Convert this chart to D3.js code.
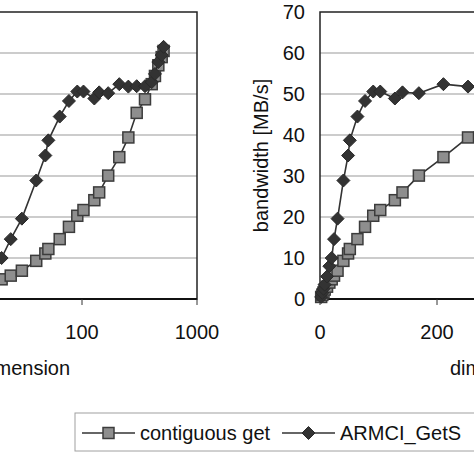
<!DOCTYPE html>
<html>
<head>
<meta charset="utf-8">
<script src="https://cdn.jsdelivr.net/npm/d3@7"></script>
<style>
  body { margin: 0; background: #fff; }
  svg { display: block; font-family: "Liberation Sans", Arial, sans-serif; }
</style>
</head>
<body>
<div id="chart"></div>
<script>
// matrix dimension (x) and bandwidth in MB/s (y)
const dims = [2, 4, 6, 8, 12, 16, 20, 24, 30, 40, 48, 51, 64, 77, 91, 103, 128, 141, 169, 211, 253, 299, 353, 404, 431, 461, 493, 512];
const contiguousGet = [0.5, 1.0, 1.6, 2.3, 3.0, 4.0, 4.8, 5.7, 6.9, 9.3, 11.1, 12.2, 14.6, 17.6, 20.3, 21.7, 24.1, 26.0, 30.1, 34.6, 39.4, 45.4, 48.7, 52.4, 54.4, 57.0, 59.0, 60.5];
const armciGetS = [0.5, 1.5, 2.5, 3.5, 5.5, 8.0, 10.0, 14.6, 19.6, 28.9, 35.0, 38.7, 44.5, 48.3, 50.6, 50.6, 48.9, 50.4, 50.2, 52.4, 51.8, 51.9, 51.9, 52.9, 54.9, 57.8, 59.5, 61.5];
const yTicks = [0, 10, 20, 30, 40, 50, 60, 70];
const logTicks = [1, 10, 100, 1000];
const linTicks = [0, 200, 400, 600];
const seriesNames = ['contiguous get', 'ARMCI_GetS'];

const W = 474, H = 474;
const plotTop = 12, plotBottom = 299;

const svg = d3.select('#chart').append('svg')
  .attr('width', W)
  .attr('height', H);

const y = d3.scaleLinear().domain([0, 70]).range([plotBottom, plotTop]);

const series = [
  { name: seriesNames[0], values: contiguousGet, marker: 'square' },
  { name: seriesNames[1], values: armciGetS, marker: 'diamond' }
];

function drawMarker(g, type, cx, cy) {
  if (type === 'square') {
    g.append('rect')
      .attr('x', cx - 5.5).attr('y', cy - 5.5)
      .attr('width', 11).attr('height', 11)
      .attr('fill', '#8e8e8e')
      .attr('stroke', '#3c3c3c')
      .attr('stroke-width', 1.5);
  } else {
    const r = 6.5;
    g.append('path')
      .attr('d', 'M' + cx + ',' + (cy - r) + 'L' + (cx + r) + ',' + cy +
        'L' + cx + ',' + (cy + r) + 'L' + (cx - r) + ',' + cy + 'Z')
      .attr('fill', '#333')
      .attr('stroke', '#2a2a2a')
      .attr('stroke-width', 1);
  }
}

function panel(x, left, right, ticks) {
  const g = svg.append('g');

  // gridlines
  g.selectAll('line.grid')
    .data(yTicks.filter(d => d > 0 && d < 70))
    .enter().append('line')
    .attr('class', 'grid')
    .attr('x1', left).attr('x2', right)
    .attr('y1', d => y(d)).attr('y2', d => y(d))
    .attr('stroke', '#9a9a9a')
    .attr('stroke-width', 1.2);

  // plot frame
  g.append('rect')
    .attr('x', left).attr('y', plotTop)
    .attr('width', right - left).attr('height', plotBottom - plotTop)
    .attr('fill', 'none')
    .attr('stroke', '#222')
    .attr('stroke-width', 1.5);
  g.append('line')
    .attr('x1', left).attr('x2', right)
    .attr('y1', plotBottom).attr('y2', plotBottom)
    .attr('stroke', '#111')
    .attr('stroke-width', 2);

  // x ticks and labels
  const xt = g.selectAll('g.xt').data(ticks).enter().append('g')
    .attr('transform', d => 'translate(' + x(d) + ',0)');
  xt.append('line')
    .attr('y1', plotBottom).attr('y2', plotBottom + 6)
    .attr('stroke', '#333').attr('stroke-width', 1);
  xt.append('text')
    .attr('y', plotBottom + 40)
    .attr('text-anchor', 'middle')
    .attr('font-size', 20)
    .attr('fill', '#111')
    .text(d => d);

  // y labels
  g.selectAll('text.yl').data(yTicks).enter().append('text')
    .attr('class', 'yl')
    .attr('x', left - 15)
    .attr('y', d => y(d) + 7)
    .attr('text-anchor', 'end')
    .attr('font-size', 20)
    .attr('fill', '#111')
    .text(d => d);

  g.append('text')
    .attr('transform', 'translate(' + (left - 52) + ',' + ((plotTop + plotBottom) / 2) + ') rotate(-90)')
    .attr('text-anchor', 'middle')
    .attr('font-size', 20)
    .attr('fill', '#111')
    .text('bandwidth [MB/s]');

  g.append('text')
    .attr('x', (left + right) / 2)
    .attr('y', 375)
    .attr('text-anchor', 'middle')
    .attr('font-size', 20)
    .attr('fill', '#111')
    .text('dimension');

  // series
  const line = d3.line()
    .x(d => x(d[0]))
    .y(d => y(d[1]));

  series.forEach(s => {
    const pts = dims.map((d, i) => [d, s.values[i]]);
    g.append('path')
      .attr('d', line(pts))
      .attr('fill', 'none')
      .attr('stroke', '#333')
      .attr('stroke-width', 1.6);
    pts.forEach(p => drawMarker(g, s.marker, x(p[0]), y(p[1])));
  });
}

// left panel: log scale
const xLog = d3.scaleLog().domain([1, 1000]).range([-148, 197]);
panel(xLog, -148, 197, logTicks);

// right panel: linear scale
const xLin = d3.scaleLinear().domain([0, 600]).range([320, 671]);
panel(xLin, 320, 671, linTicks);

// legend
const lg = svg.append('g');
lg.append('rect')
  .attr('x', 75).attr('y', 413)
  .attr('width', 420).attr('height', 38)
  .attr('fill', '#fff')
  .attr('stroke', '#a0a0a0')
  .attr('stroke-width', 1);

const legendPos = [{ x0: 82, tx: 140 }, { x0: 282, tx: 340 }];
series.forEach((s, i) => {
  const p = legendPos[i];
  lg.append('line')
    .attr('x1', p.x0).attr('x2', p.x0 + 53)
    .attr('y1', 433).attr('y2', 433)
    .attr('stroke', '#333').attr('stroke-width', 1.6);
  drawMarker(lg, s.marker, p.x0 + 26.5, 433);
  lg.append('text')
    .attr('x', p.tx).attr('y', 440)
    .attr('font-size', 20)
    .attr('fill', '#111')
    .text(s.name);
});
</script>
</body>
</html>
